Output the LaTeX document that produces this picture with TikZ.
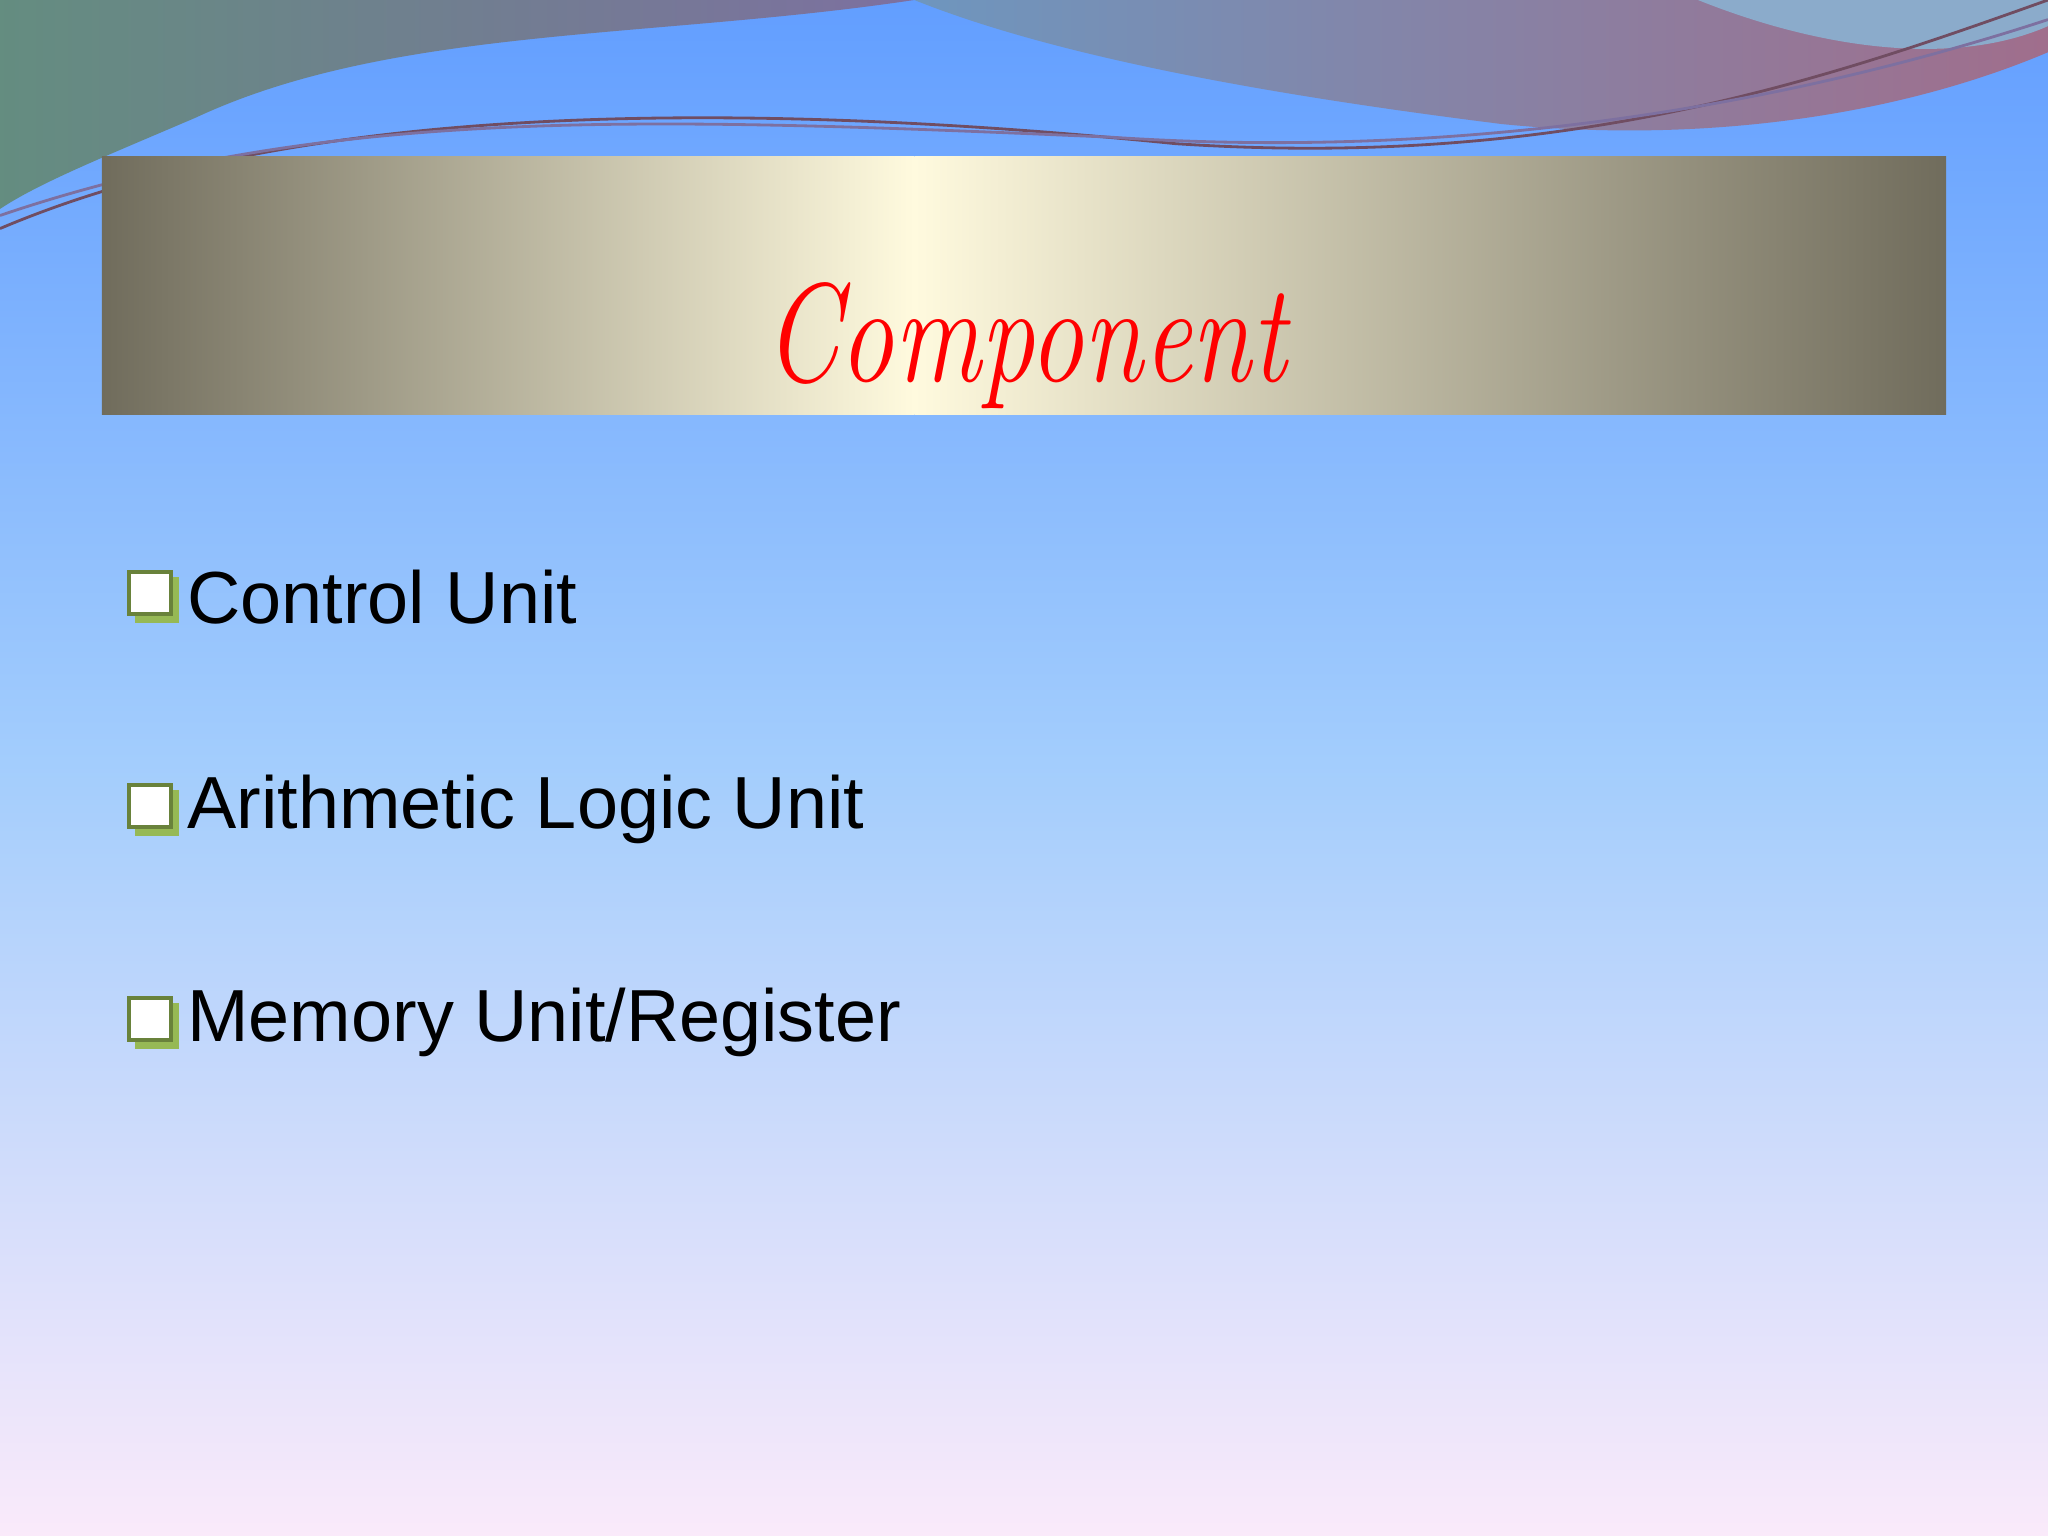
\documentclass[tikz,border=0pt]{standalone}
\usepackage{fontspec}
\usepackage{graphicx}
\setmainfont{Liberation Sans}
\newfontfamily\titlefont{Latin Modern Roman}
\begin{document}
\begin{tikzpicture}[x=0.013061cm,y=-0.013061cm,
  bul/.style={font=\fontsize{21}{25}\selectfont, anchor=west, text=black, inner sep=0pt}]
\definecolor{bgtop}{RGB}{98,158,255}
\definecolor{bgbot}{RGB}{250,234,250}
\definecolor{bedge}{RGB}{112,108,92}
\definecolor{bmid}{RGB}{255,250,222}
\definecolor{boxgreen}{RGB}{150,185,85}
\definecolor{wave1}{RGB}{125,112,160}
\definecolor{wave2}{RGB}{110,150,190}
\definecolor{wave3}{RGB}{160,110,140}
\useasboundingbox (0,0) rectangle (1568,1176);
\shade[top color=bgtop, bottom color=bgbot, middle color=bgtop!45!bgbot!90!cyan] (0,0) rectangle (1568,1176);
% top waves
\shade[left color=wave1!80!green, right color=wave1] (0,0) -- (700,0) .. controls (500,30) and (300,20) .. (150,90) .. controls (80,120) and (30,140) .. (0,160) -- cycle;
\shade[left color=wave2, right color=wave3] (700,0) -- (1568,0) -- (1568,40) .. controls (1450,90) and (1300,110) .. (1150,95) .. controls (950,70) and (800,40) .. (700,0) -- cycle;
\fill[wave2!80!white] (1300,0) -- (1568,0) -- (1568,20) .. controls (1500,50) and (1400,40) .. (1300,0) -- cycle;
\draw[wave3!70!black, line width=0.8pt] (0,175) .. controls (200,90) and (500,70) .. (900,110) .. controls (1200,130) and (1400,60) .. (1568,0);
\draw[wave1, line width=0.8pt] (0,165) .. controls (250,80) and (500,90) .. (850,105) .. controls (1150,125) and (1400,70) .. (1568,15);
% banner
\shade[left color=bedge, right color=bmid] (78,120) rectangle (700,317);
\shade[left color=bmid, right color=bedge] (700,120) rectangle (1490,317);
\node[text=red, font=\titlefont\itshape\fontsize{40}{44}\selectfont, inner sep=0pt] (title) at (785,265) {\scalebox{0.77}[1]{Component}};
% bullets
\foreach \yy/\name/\txt in {457/cu/{Control Unit}, 620/alu/{Arithmetic Logic Unit}, 783/mu/{Memory Unit/Register}}{
  \fill[boxgreen] (103,442) ++(0,\yy-457) rectangle ++(34,35);
  \draw[boxgreen!70!black, line width=1.2pt, fill=white] (99,438) ++(0,\yy-457) rectangle ++(32,32);
  \node[bul] (\name) at (143,\yy) {\txt};
}
\end{tikzpicture}
\end{document}
